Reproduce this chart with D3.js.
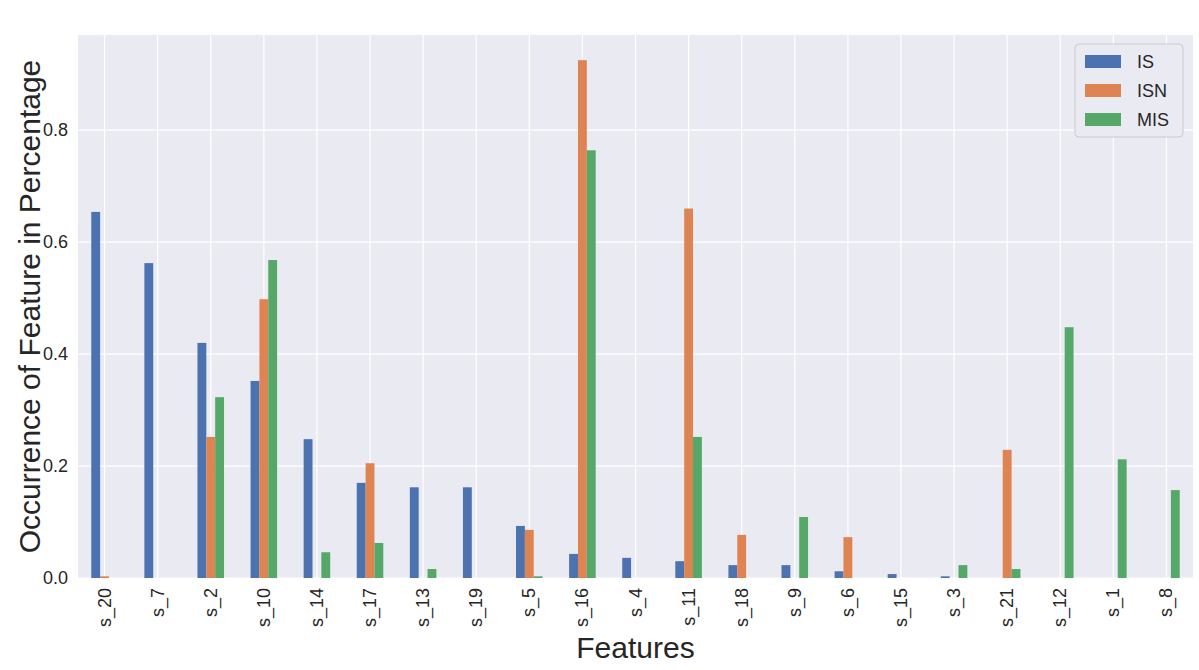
<!DOCTYPE html>
<html lang="en">
<head>
<meta charset="utf-8" />
<style>
  body {margin:0; background:#fff;}
  text {font-family: Arial, "Liberation Sans", sans-serif; fill:#262626;}
</style>
<script src="https://d3js.org/d3.v7.min.js"></script>
</head>
<body>
<svg></svg>
<script>
var features = ["s_20","s_7","s_2","s_10","s_14","s_17","s_13","s_19","s_5","s_16","s_4","s_11","s_18","s_9","s_6","s_15","s_3","s_21","s_12","s_1","s_8"];
var seriesNames = ["IS","ISN","MIS"];
var isVals  = [0.654,0.5625,0.42,0.352,0.248,0.17,0.162,0.162,0.093,0.043,0.036,0.03,0.023,0.023,0.012,0.007,0.003,0,0,0,0];
var isnVals = [0.003,0,0.252,0.498,0,0.205,0,0,0.086,0.925,0,0.66,0.077,0,0.073,0,0,0.229,0,0,0];
var misVals = [0,0,0.323,0.568,0.046,0.0625,0.016,0,0.003,0.764,0,0.252,0,0.109,0,0,0.023,0.016,0.448,0.212,0.157];
var yTicks = [0,0.2,0.4,0.6,0.8];
var colors = ["#4C72B0","#DD8452","#55A868"];

var width = 1199, height = 670;
var m = {left:78, right:6, top:35, bottom:92};
var pw = width - m.left - m.right, ph = height - m.top - m.bottom;

var svg = d3.select("svg").attr("width", width).attr("height", height);
var g = svg.append("g").attr("transform", "translate(" + m.left + "," + m.top + ")");

var x = d3.scaleLinear().domain([-0.5, features.length - 0.5]).range([0, pw]);
var y = d3.scaleLinear().domain([0, 0.97]).range([ph, 0]);

g.append("rect").attr("width", pw).attr("height", ph).attr("fill", "#EAEAF2");

g.selectAll(".hg").data(yTicks).enter().append("line")
  .attr("x1", 0).attr("x2", pw)
  .attr("y1", function(d) {return y(d)}).attr("y2", function(d) {return y(d)})
  .attr("stroke", "#fff").attr("stroke-width", 1.2);
g.selectAll(".vg").data(features).enter().append("line")
  .attr("x1", function(d, i) {return x(i)}).attr("x2", function(d, i) {return x(i)})
  .attr("y1", 0).attr("y2", ph)
  .attr("stroke", "#fff").attr("stroke-width", 1.2);

var data = [isVals, isnVals, misVals];
var bw = 0.5 / 3;
data.forEach(function(vals, s) {
  g.append("g").selectAll("rect").data(vals).enter().append("rect")
    .attr("x", function(d, i) {return x(i - 0.25 + s * bw)})
    .attr("width", x(bw) - x(0))
    .attr("y", function(d) {return y(d)})
    .attr("height", function(d) {return y(0) - y(d)})
    .attr("fill", colors[s]);
});

g.selectAll(".yt").data(yTicks).enter().append("text")
  .attr("x", -10).attr("y", function(d) {return y(d)}).attr("dy", "0.35em")
  .attr("text-anchor", "end").style("font-size", "18px")
  .text(function(d) {return d.toFixed(1)});

g.selectAll(".xt").data(features).enter().append("text")
  .attr("transform", function(d, i) {return "translate(" + (x(i) + 6) + "," + (ph + 10) + ") rotate(-90)"})
  .attr("text-anchor", "end").style("font-size", "18px")
  .text(function(d) {return d});

svg.append("text").attr("x", m.left + pw / 2).attr("y", 658)
  .attr("text-anchor", "middle").style("font-size", "30px").text("Features");
svg.append("text").attr("transform", "translate(40," + (m.top + ph / 2) + ") rotate(-90)")
  .attr("text-anchor", "middle").style("font-size", "30px").text("Occurrence of Feature in Percentage");

var lg = svg.append("g").attr("transform", "translate(1075,44)");
lg.append("rect").attr("width", 108).attr("height", 93).attr("rx", 4)
  .attr("fill", "#EAEAF2").attr("stroke", "#ccc");
seriesNames.forEach(function(n, i) {
  lg.append("rect").attr("x", 10).attr("y", 11 + i * 29).attr("width", 36).attr("height", 13).attr("fill", colors[i]);
  lg.append("text").attr("x", 62).attr("y", 18 + i * 29).attr("dy", "0.35em").style("font-size", "18px").text(n);
});
</script>
</body>
</html>
